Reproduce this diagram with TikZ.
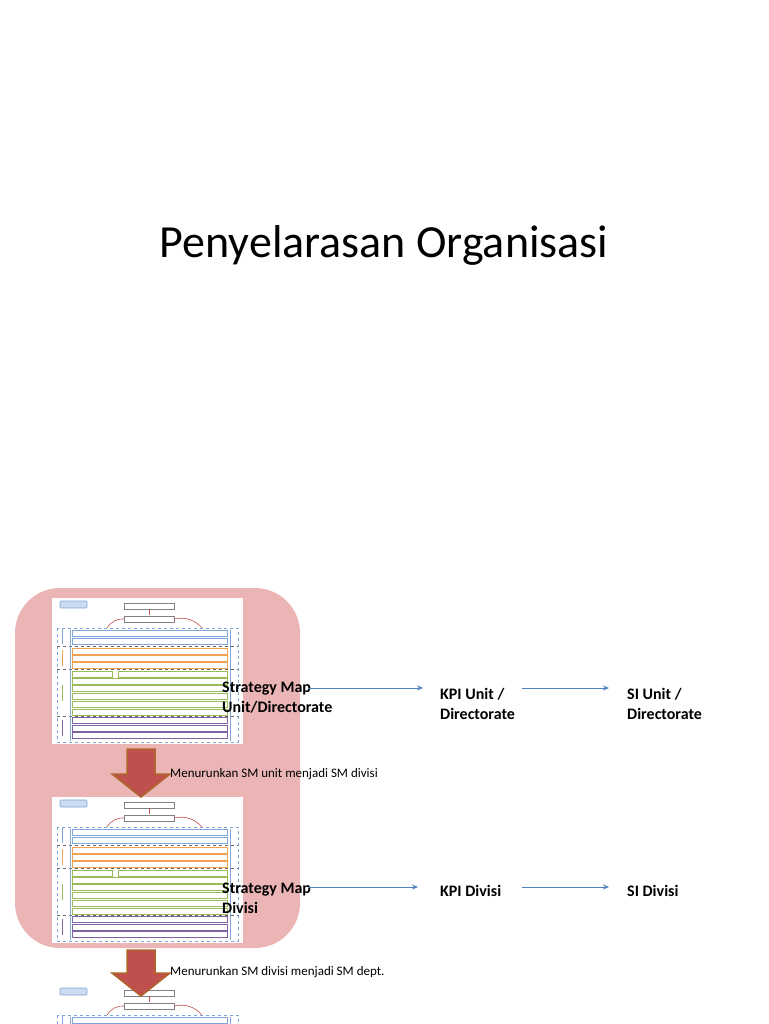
\documentclass[tikz,border=0pt]{standalone}
\usepackage{fontspec}
\setmainfont{Carlito}
\usetikzlibrary{arrows.meta}
\definecolor{pinkbg}{HTML}{EBB5B5}
\definecolor{arrred}{HTML}{C0504D}
\definecolor{arredge}{HTML}{B0652A}
\definecolor{lnblue}{HTML}{4F81BD}
\definecolor{thblue}{HTML}{7FA6D6}
\definecolor{thorange}{HTML}{F0A050}
\definecolor{thgreen}{HTML}{9BBB59}
\definecolor{thpurple}{HTML}{8064A2}
\tikzset{
  lbl/.style={anchor=west,font=\fontsize{16}{20}\selectfont\bfseries,align=left,inner sep=0},
  small/.style={anchor=west,font=\fontsize{13}{16}\selectfont,inner sep=0},
  conn/.style={draw=lnblue,line width=0.8,-{Stealth[length=6,width=5]}},
  row/.style={draw=#1,line width=0.6,fill=white},
  bigarrow/.style={fill=arrred,draw=arredge,line width=1.5}
}
\newcommand{\thumb}[2]{%
 \begin{scope}[shift={(#1,#2)}]
  \fill[white] (0,0) rectangle (191,146);
  \draw[row=thblue,fill=thblue!40,rounded corners=1] (8,3) rectangle (35,10);
  \draw[row=gray] (72,5) rectangle (122,11);
  \draw[row=gray] (72,18) rectangle (122,24);
  \draw[arrred,line width=0.6] (97,17)--(97,11);
  \draw[arrred,line width=0.6] (72,21) to[bend right=30] (55,30);
  \draw[arrred,line width=0.6] (122,21) to[bend left=30] (150,30);
  \draw[thblue,dashed,line width=0.5] (5,30) rectangle (186,144);
  \foreach \y in {35,43} \draw[row=thblue] (20,\y-3) rectangle (175,\y+3);
  \foreach \y in {53,60,67} \draw[row=thorange] (20,\y-3) rectangle (175,\y+3);
  \draw[row=thgreen] (20,73) rectangle (60,79);
  \draw[row=thgreen] (66,73) rectangle (175,79);
  \foreach \y in {83,90,98,106,114} \draw[row=thgreen] (20,\y-3) rectangle (175,\y+3);
  \foreach \y in {122,130,137} \draw[row=thpurple] (20,\y-3) rectangle (175,\y+3);
  \draw[dashed,black!60,line width=0.4] (5,48)--(186,48) (5,71)--(186,71) (5,118)--(186,118);
  \draw[thblue,line width=0.5] (18,32)--(18,143) (178,32)--(178,143);
  \foreach \y/\c in {38/thblue,60/thorange,95/thgreen,130/thpurple} \draw[\c,line width=1] (10,\y-8)--(10,\y+8);
 \end{scope}}
\begin{document}
\begin{tikzpicture}[x=1pt,y=-1pt]
\useasboundingbox (0,0) rectangle (768,1024);
\fill[white] (0,0) rectangle (768,1024);
\node[font=\fontsize{46}{52}\selectfont] (title) at (384,245) {Penyelarasan Organisasi};
\fill[pinkbg,rounded corners=45] (15,588) rectangle (300,948);
\thumb{52}{598}
\thumb{52}{797}
\thumb{52}{985}
\draw[bigarrow] (127,749)--(155,749)--(155,774)--(170,774)--(141,797)--(112,774)--(127,774)--cycle;
\draw[bigarrow] (127,950)--(155,950)--(155,973)--(170,973)--(141,996)--(112,973)--(127,973)--cycle;
\node[small] (m1) at (170,774) {Menurunkan SM unit menjadi SM divisi};
\node[small] (m2) at (170,972) {Menurunkan SM divisi menjadi SM dept.};
\node[lbl] (sm1) at (222,698) {Strategy Map\\Unit/Directorate};
\node[lbl] (kpi1) at (440,704) {KPI Unit /\\Directorate};
\node[lbl] (si1) at (627,704) {SI Unit /\\Directorate};
\node[lbl] (sm2) at (222,898) {Strategy Map\\Divisi};
\node[lbl] (kpi2) at (440,891) {KPI Divisi};
\node[lbl] (si2) at (627,891) {SI Divisi};
\coordinate (a1) at (308,688); \coordinate (b1) at (423,688);
\coordinate (a2) at (522,688); \coordinate (b2) at (609,688);
\coordinate (a3) at (308,887); \coordinate (b3) at (418,887);
\coordinate (a4) at (522,887); \coordinate (b4) at (609,887);
\draw[conn] (a1)--(b1);
\draw[conn] (a2)--(b2);
\draw[conn] (a3)--(b3);
\draw[conn] (a4)--(b4);
\end{tikzpicture}
\end{document}
